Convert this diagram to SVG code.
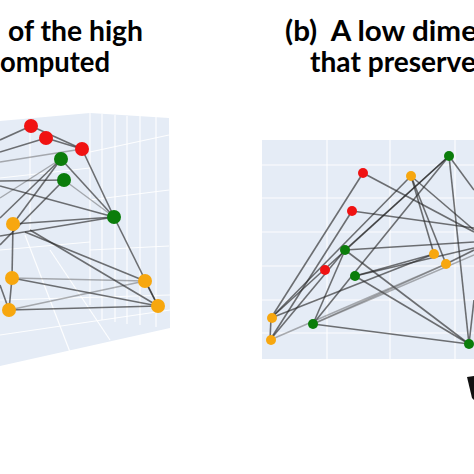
<svg xmlns="http://www.w3.org/2000/svg" width="474" height="474" viewBox="0 0 474 474">
<style>
.t{font-family:Lato,"Open Sans","Liberation Sans",sans-serif;font-weight:bold;font-size:28px;fill:#000;white-space:pre}
.e{stroke:#2a2a2a;stroke-opacity:.65;stroke-width:1.6;fill:none}
.el{stroke:#555;stroke-opacity:.45;stroke-width:1.4;fill:none}
.g{stroke:#fff;stroke-width:1.2;fill:none;opacity:.9}
.r{fill:#f01212}.gr{fill:#0b7d0b}.o{fill:#f7a70f}
</style>
<rect width="474" height="474" fill="#fff"/>
<g id="titles">
<text class="t" x="8" y="41" textLength="135" lengthAdjust="spacingAndGlyphs">of the high</text>
<text class="t" x="0" y="72" textLength="110" lengthAdjust="spacingAndGlyphs">omputed</text>
<text class="t" x="285" y="41" xml:space="preserve" textLength="192" lengthAdjust="spacingAndGlyphs">(b)  A low dime</text>
<text class="t" x="310" y="72" textLength="166" lengthAdjust="spacingAndGlyphs">that preserve</text>
</g>
<g id="panel3d">
<polygon points="0,121 90,113 169,118 170,328 0,366" fill="#e5ecf6"/>
<polyline class="g" points="90,113 90,305"/>
<line class="g" x1="102" y1="114" x2="102" y2="320"/>
<line class="g" x1="115" y1="115" x2="115" y2="322"/>
<line class="g" x1="127" y1="116" x2="127" y2="324"/>
<line class="g" x1="140" y1="116" x2="140" y2="325"/>
<line class="g" x1="156" y1="117" x2="156" y2="327"/>
<line class="g" x1="90" y1="152" x2="169" y2="135"/>
<line class="g" x1="90" y1="200" x2="169" y2="190"/>
<line class="g" x1="90" y1="250" x2="169" y2="246"/>
<line class="g" x1="0" y1="178" x2="90" y2="168"/>
<line class="g" x1="0" y1="250" x2="90" y2="242"/>
<line class="g" x1="0" y1="300" x2="170" y2="295"/>
<line class="g" x1="0" y1="335" x2="170" y2="310"/>
<line class="g" x1="25" y1="235" x2="70" y2="352"/>
<line class="g" x1="50" y1="250" x2="110" y2="340"/>
<line class="g" x1="30" y1="122" x2="30" y2="230"/>
</g>
<g id="panel2d">
<rect x="262" y="140" width="212" height="219" fill="#e5ecf6"/>
<line class="g" x1="327" y1="140" x2="327" y2="359"/>
<line class="g" x1="390" y1="140" x2="390" y2="359"/>
<line class="g" x1="455" y1="140" x2="455" y2="359"/>
<line class="g" x1="262" y1="165" x2="474" y2="165"/>
<line class="g" x1="262" y1="198" x2="474" y2="198"/>
<line class="g" x1="262" y1="232" x2="474" y2="232"/>
<line class="g" x1="262" y1="266" x2="474" y2="266"/>
<line class="g" x1="262" y1="300" x2="474" y2="300"/>
<line class="g" x1="262" y1="333" x2="474" y2="333"/>
</g>
<g id="connectors">
<line class="e" x1="0" y1="140" x2="31" y2="126"/>
<line class="e" x1="0" y1="152" x2="46" y2="138"/>
<line class="e" x1="31" y1="126" x2="82" y2="149"/>
<line class="e" x1="46" y1="138" x2="82" y2="149"/>
<line class="el" x1="0" y1="162" x2="82" y2="149"/>
<line class="e" x1="82" y1="149" x2="114" y2="217"/>
<line class="el" x1="0" y1="198" x2="61" y2="159"/>
<line class="e" x1="0" y1="218" x2="61" y2="159"/>
<line class="e" x1="13" y1="224" x2="61" y2="159"/>
<line class="e" x1="61" y1="159" x2="114" y2="217"/>
<line class="e" x1="0" y1="181" x2="64" y2="180"/>
<line class="e" x1="0" y1="245" x2="64" y2="180"/>
<line class="el" x1="64" y1="180" x2="114" y2="217"/>
<line class="e" x1="0" y1="186" x2="114" y2="217"/>
<line class="e" x1="13" y1="224" x2="114" y2="217"/>
<line class="e" x1="0" y1="236" x2="114" y2="217"/>
<line class="e" x1="114" y1="217" x2="158" y2="306"/>
<line class="e" x1="13" y1="224" x2="12" y2="278"/>
<line class="e" x1="12" y1="278" x2="9" y2="310"/>
<line class="e" x1="0" y1="285" x2="9" y2="310"/>
<line class="e" x1="12" y1="278" x2="158" y2="306"/>
<line class="el" x1="12" y1="278" x2="145" y2="281"/>
<line class="e" x1="9" y1="310" x2="158" y2="306"/>
<line class="el" x1="9" y1="310" x2="145" y2="281"/>
<line class="e" x1="25" y1="232" x2="145" y2="281"/>
<line class="e" x1="30" y1="230" x2="158" y2="306"/>
<line class="e" x1="145" y1="281" x2="158" y2="306"/>

<line class="e" x1="449" y1="156" x2="345" y2="250"/>
<line class="e" x1="449" y1="156" x2="271" y2="318"/>
<line class="e" x1="449" y1="156" x2="313" y2="324"/>
<line class="e" x1="449" y1="156" x2="469" y2="344"/>
<line class="e" x1="449" y1="156" x2="474" y2="190"/>
<line class="e" x1="411" y1="176" x2="271" y2="318"/>
<line class="e" x1="411" y1="176" x2="434" y2="254"/>
<line class="e" x1="411" y1="176" x2="446" y2="264"/>
<line class="e" x1="411" y1="176" x2="474" y2="230"/>
<line class="e" x1="363" y1="173" x2="271" y2="318"/>
<line class="e" x1="363" y1="173" x2="474" y2="232"/>
<line class="e" x1="352" y1="211" x2="474" y2="228"/>
<line class="e" x1="352" y1="211" x2="270" y2="340"/>
<line class="e" x1="345" y1="250" x2="474" y2="242"/>
<line class="e" x1="345" y1="250" x2="469" y2="344"/>
<line class="e" x1="345" y1="250" x2="313" y2="324"/>
<line class="e" x1="355" y1="276" x2="434" y2="254"/>
<line class="e" x1="355" y1="276" x2="469" y2="344"/>
<line class="e" x1="355" y1="276" x2="474" y2="248"/>
<line class="e" x1="434" y1="254" x2="271" y2="318"/>
<line class="el" x1="446" y1="264" x2="270" y2="340"/>
<line class="el" x1="446" y1="264" x2="313" y2="324"/>
<line class="el" x1="474" y1="255" x2="313" y2="324"/>
<line class="e" x1="313" y1="324" x2="469" y2="344"/>
<line class="e" x1="271" y1="318" x2="270" y2="340"/>
<line class="e" x1="270" y1="340" x2="345" y2="250"/>
<line class="e" x1="474" y1="300" x2="469" y2="344"/>
<line class="e" x1="474" y1="250" x2="446" y2="264"/>
</g>
<g id="nodes3d">
<circle id="n3r1" class="r" cx="31" cy="126" r="7"/>
<circle id="n3r2" class="r" cx="46" cy="138" r="7"/>
<circle id="n3r3" class="r" cx="82" cy="149" r="7"/>
<circle id="n3g1" class="gr" cx="61" cy="159" r="7"/>
<circle id="n3g2" class="gr" cx="64" cy="180" r="7"/>
<circle id="n3g3" class="gr" cx="114" cy="217" r="7"/>
<circle id="n3o1" class="o" cx="13" cy="224" r="7"/>
<circle id="n3o2" class="o" cx="12" cy="278" r="7"/>
<circle id="n3o3" class="o" cx="9" cy="310" r="7"/>
<circle id="n3o4" class="o" cx="145" cy="281" r="7"/>
<circle id="n3o5" class="o" cx="158" cy="306" r="7"/>
</g>
<g id="nodes2d">
<circle id="n2g1" class="gr" cx="449" cy="156" r="5"/>
<circle id="n2o1" class="o" cx="411" cy="176" r="5"/>
<circle id="n2r1" class="r" cx="363" cy="173" r="5"/>
<circle id="n2r2" class="r" cx="352" cy="211" r="5"/>
<circle id="n2g2" class="gr" cx="345" cy="250" r="5"/>
<circle id="n2g3" class="gr" cx="355" cy="276" r="5"/>
<circle id="n2r3" class="r" cx="325" cy="270" r="5"/>
<circle id="n2o2" class="o" cx="434" cy="254" r="5"/>
<circle id="n2o3" class="o" cx="446" cy="264" r="5"/>
<circle id="n2o4" class="o" cx="272" cy="318" r="5"/>
<circle id="n2o5" class="o" cx="271" cy="340" r="5"/>
<circle id="n2g4" class="gr" cx="313" cy="324" r="5"/>
<circle id="n2g5" class="gr" cx="469" cy="344" r="5"/>
</g>
<polygon id="mark" points="467,377 474,376 474,400 472,398" fill="#111"/>
</svg>
